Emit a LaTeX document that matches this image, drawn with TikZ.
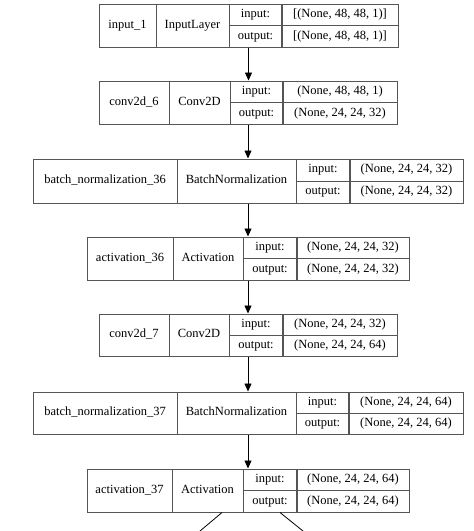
\documentclass[tikz,border=0pt]{standalone}
\usepackage{fontspec}
\setmainfont{Liberation Serif}
\usetikzlibrary{arrows.meta, positioning}
\definecolor{cellline}{RGB}{85, 85, 85}

\begin{document}
\begin{tikzpicture}[x=1pt, y=-1pt, font=\fontsize{12.5}{14}\selectfont,
    layerbox/.style={draw=cellline, line width=1pt, inner sep=0pt},
    celltext/.style={text height=8.5pt, text depth=3pt},
    flow/.style={-{Triangle[width=7pt, length=8pt]}, line width=0.8pt}]
    \useasboundingbox (0,0) rectangle (474,531);

    % one row per layer: name, dividers, top/bottom, texts
    \foreach \id/\xa/\xb/\xc/\xd/\xe/\ya/\yb/\lname/\lclass/\lin/\lout in {
        l1/99/156/229/282/398/4/47/input\_1/InputLayer/{[(None, 48, 48, 1)]}/{[(None, 48, 48, 1)]},
        l2/99/169/230/283/397/81/124/conv2d\_6/Conv2D/{(None, 48, 48, 1)}/{(None, 24, 24, 32)},
        l3/33/177/296/350/463/159/203/batch\_normalization\_36/BatchNormalization/{(None, 24, 24, 32)}/{(None, 24, 24, 32)},
        l4/87/173/243/297/409/237/280/activation\_36/Activation/{(None, 24, 24, 32)}/{(None, 24, 24, 32)},
        l5/99/169/229/283/397/314/356/conv2d\_7/Conv2D/{(None, 24, 24, 32)}/{(None, 24, 24, 64)},
        l6/33/177/296/349/463/392/434/batch\_normalization\_37/BatchNormalization/{(None, 24, 24, 64)}/{(None, 24, 24, 64)},
        l7/87/172/243/297/409/469/512/activation\_37/Activation/{(None, 24, 24, 64)}/{(None, 24, 24, 64)}}{
        \node[layerbox, minimum width={(\xe-\xa)*1pt}, minimum height={(\yb-\ya)*1pt}] (\id) at ({(\xa+\xe)/2},{(\ya+\yb)/2}) {};
        \draw[cellline, line width=1pt] (\xb,\ya) -- (\xb,\yb) (\xc,\ya) -- (\xc,\yb)
            (\xc,{(\ya+\yb)/2}) -- (\xe,{(\ya+\yb)/2});
        \draw[cellline, line width=1.8pt] (\xd,\ya) -- (\xd,\yb);
        \node[celltext] (\id-name) at ({(\xa+\xb)/2},{(\ya+\yb)/2}) {\lname};
        \node[celltext] (\id-class) at ({(\xb+\xc)/2},{(\ya+\yb)/2}) {\lclass};
        \node[celltext] (\id-inkey) at ({(\xc+\xd)/2},{(3*\ya+\yb)/4}) {input:};
        \node[celltext] (\id-outkey) at ({(\xc+\xd)/2},{(\ya+3*\yb)/4}) {output:};
        \node[celltext] (\id-in) at ({(\xd+\xe)/2},{(3*\ya+\yb)/4}) {\lin};
        \node[celltext] (\id-out) at ({(\xd+\xe)/2},{(\ya+3*\yb)/4}) {\lout};
    }

    \foreach \a/\b in {l1/l2, l2/l3, l3/l4, l4/l5, l5/l6, l6/l7}
        \draw[flow] (\a.south) -- (\a.south |- \b.north);

    % branches leaving the picture
    \coordinate (outl) at (200,531);
    \coordinate (outr) at (303,531);
    \draw[line width=0.8pt] ([xshift=-26pt]l7.south) -- (outl);
    \draw[line width=0.8pt] ([xshift=32pt]l7.south) -- (outr);
\end{tikzpicture}
\end{document}
